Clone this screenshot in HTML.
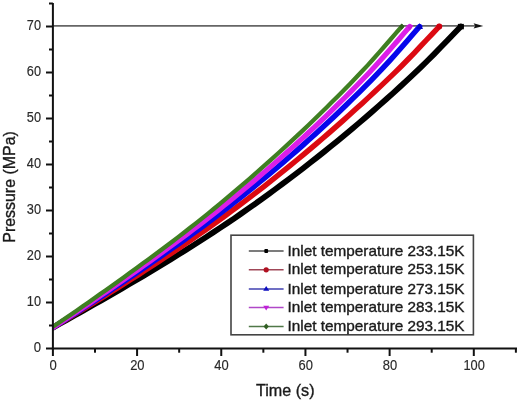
<!DOCTYPE html>
<html><head><meta charset="utf-8"><style>
html,body{margin:0;padding:0;background:#fff;width:520px;height:402px;overflow:hidden}
svg{display:block}
text{font-family:"Liberation Sans",Arial,sans-serif;fill:#1a1a1a;stroke:#1a1a1a;stroke-width:0.35px}
text.t{fill:#2a2a2a;stroke:#2a2a2a;stroke-width:0.15px}
</style></head><body>
<svg width="520" height="402" viewBox="0 0 520 402">
<rect width="520" height="402" fill="#fff"/>

<line x1="52.9" y1="25.9" x2="475" y2="25.9" stroke="#666" stroke-width="1.6"/>
<defs><clipPath id="pc"><rect x="53" y="0" width="470" height="349"/></clipPath></defs><g clip-path="url(#pc)">
<polyline points="52.90,327.74 59.81,323.82 66.73,319.91 73.64,316.02 80.56,312.12 87.47,308.22 94.39,304.30 101.30,300.36 108.22,296.40 115.13,292.41 122.06,288.39 129.01,284.34 135.97,280.25 142.94,276.13 149.93,271.96 156.94,267.76 163.95,263.52 170.96,259.23 177.99,254.90 185.01,250.52 192.04,246.10 199.06,241.63 206.08,237.11 213.09,232.54 220.09,227.92 227.07,223.25 234.04,218.53 240.99,213.75 247.91,208.92 254.82,204.04 261.74,199.09 268.65,194.09 275.57,189.03 282.48,183.91 289.39,178.73 296.31,173.49 303.22,168.18 310.14,162.81 317.05,157.38 323.97,151.88 330.88,146.32 337.80,140.68 344.71,134.98 351.63,129.20 358.54,123.36 365.46,117.44 372.37,111.46 379.28,105.39 386.20,99.25 393.11,93.04 400.03,86.75 406.94,80.38 413.86,73.93 420.72,67.41 427.46,60.80 434.11,54.11 440.72,47.33 447.34,40.47 454.03,33.53 460.86,26.50" fill="none" stroke="#000000" stroke-width="5.8" stroke-linejoin="round" stroke-linecap="round"/>
<rect x="457.86" y="23.90" width="6" height="5.4" fill="#000"/>
<polyline points="52.90,327.54 59.45,323.58 66.00,319.62 72.55,315.66 79.09,311.69 85.64,307.70 92.19,303.70 98.74,299.67 105.29,295.61 111.84,291.53 118.40,287.41 124.99,283.26 131.59,279.08 138.21,274.86 144.84,270.60 151.47,266.30 158.12,261.97 164.78,257.59 171.44,253.17 178.10,248.71 184.76,244.21 191.42,239.66 198.07,235.07 204.71,230.43 211.34,225.75 217.95,221.02 224.54,216.24 231.11,211.41 237.65,206.53 244.20,201.61 250.75,196.63 257.30,191.60 263.85,186.51 270.40,181.37 276.94,176.18 283.49,170.94 290.04,165.63 296.59,160.27 303.14,154.86 309.69,149.38 316.23,143.85 322.78,138.26 329.33,132.60 335.88,126.89 342.43,121.11 348.98,115.27 355.52,109.37 362.07,103.40 368.62,97.37 375.17,91.27 381.72,85.11 388.27,78.87 394.81,72.57 401.29,66.21 407.65,59.77 413.93,53.26 420.18,46.68 426.45,40.02 432.79,33.30 439.25,26.50" fill="none" stroke="#dc0a12" stroke-width="5.4" stroke-linejoin="round" stroke-linecap="round"/>
<circle cx="439.25" cy="26.50" r="3" fill="#d00010"/>
<polyline points="52.90,327.48 59.12,323.64 65.33,319.76 71.55,315.83 77.77,311.86 83.98,307.85 90.20,303.81 96.41,299.74 102.63,295.64 108.85,291.51 115.08,287.36 121.34,283.18 127.61,278.97 133.89,274.73 140.19,270.46 146.50,266.17 152.81,261.84 159.14,257.48 165.46,253.09 171.79,248.66 178.12,244.20 184.44,239.70 190.76,235.16 197.07,230.58 203.36,225.96 209.64,221.30 215.90,216.59 222.14,211.83 228.36,207.03 234.57,202.18 240.79,197.28 247.01,192.33 253.22,187.32 259.44,182.25 265.66,177.14 271.87,171.96 278.09,166.72 284.30,161.42 290.52,156.06 296.74,150.64 302.95,145.14 309.17,139.59 315.39,133.96 321.60,128.27 327.82,122.50 334.04,116.66 340.25,110.75 346.47,104.76 352.68,98.69 358.90,92.55 365.12,86.33 371.33,80.02 377.55,73.64 383.71,67.17 389.75,60.61 395.70,53.97 401.61,47.24 407.54,40.42 413.54,33.51 419.66,26.50" fill="none" stroke="#0606ec" stroke-width="5.4" stroke-linejoin="round" stroke-linecap="round"/>
<polygon points="416.26,28.90 423.06,28.90 419.66,23.30" fill="#0000c8"/>
<polyline points="52.90,327.50 58.95,323.60 65.00,319.66 71.05,315.68 77.10,311.65 83.15,307.59 89.20,303.50 95.25,299.38 101.30,295.23 107.35,291.05 113.42,286.84 119.51,282.61 125.62,278.35 131.74,274.06 137.87,269.75 144.02,265.40 150.17,261.03 156.33,256.62 162.49,252.18 168.65,247.72 174.81,243.21 180.97,238.67 187.12,234.10 193.26,229.48 199.38,224.83 205.49,220.13 211.58,215.40 217.65,210.61 223.69,205.79 229.74,200.92 235.79,196.00 241.84,191.03 247.89,186.01 253.94,180.94 259.99,175.81 266.04,170.63 272.09,165.40 278.14,160.11 284.19,154.75 290.24,149.34 296.29,143.87 302.34,138.34 308.39,132.74 314.44,127.07 320.49,121.34 326.54,115.54 332.59,109.67 338.64,103.73 344.69,97.72 350.74,91.64 356.79,85.48 362.84,79.25 368.89,72.94 374.88,66.55 380.74,60.08 386.52,53.53 392.27,46.90 398.04,40.19 403.87,33.39 409.84,26.50" fill="none" stroke="#dc1ee8" stroke-width="5.2" stroke-linejoin="round" stroke-linecap="round"/>
<polygon points="406.24,24.90 413.44,24.90 409.84,30.50" fill="#c818d8"/>
<polyline points="52.90,326.84 58.81,322.83 64.73,318.79 70.64,314.74 76.55,310.66 82.46,306.56 88.38,302.44 94.29,298.29 100.20,294.11 106.12,289.91 112.06,285.68 118.02,281.42 123.99,277.13 129.98,272.82 135.98,268.47 141.99,264.09 148.01,259.68 154.04,255.23 160.06,250.75 166.09,246.23 172.11,241.68 178.13,237.09 184.14,232.46 190.14,227.79 196.12,223.09 202.09,218.34 208.03,213.55 213.95,208.72 219.86,203.84 225.78,198.93 231.69,193.96 237.60,188.95 243.52,183.90 249.43,178.79 255.34,173.64 261.25,168.44 267.17,163.19 273.08,157.88 278.99,152.53 284.91,147.12 290.82,141.66 296.73,136.14 302.64,130.57 308.56,124.94 314.47,119.25 320.38,113.51 326.30,107.71 332.21,101.84 338.12,95.92 344.04,89.94 349.95,83.89 355.86,77.78 361.77,71.60 367.60,65.36 373.31,59.05 378.96,52.68 384.58,46.24 390.22,39.73 395.93,33.15 401.77,26.50" fill="none" stroke="#3f7f22" stroke-width="4.3" stroke-linejoin="round" stroke-linecap="round"/>
<polygon points="398.97,26.50 401.77,23.60 404.57,26.50 401.77,29.40" fill="#2e5e1a"/>
</g>
<polygon points="473.6,23.2 483.3,25.9 473.6,28.6 475.2,25.9" fill="#111"/>
<line x1="52.9" y1="3" x2="52.9" y2="349.5" stroke="#111" stroke-width="2"/>
<line x1="51.9" y1="348.5" x2="517" y2="348.5" stroke="#111" stroke-width="2"/>
<line x1="46" y1="348.50" x2="52.9" y2="348.50" stroke="#111" stroke-width="2"/>
<text class="t" x="41" y="352.10" font-size="14" text-anchor="end" textLength="7.3" lengthAdjust="spacingAndGlyphs">0</text>
<line x1="46" y1="302.50" x2="52.9" y2="302.50" stroke="#111" stroke-width="2"/>
<text class="t" x="41" y="306.10" font-size="14" text-anchor="end" textLength="14.2" lengthAdjust="spacingAndGlyphs">10</text>
<line x1="46" y1="256.50" x2="52.9" y2="256.50" stroke="#111" stroke-width="2"/>
<text class="t" x="41" y="260.10" font-size="14" text-anchor="end" textLength="14.2" lengthAdjust="spacingAndGlyphs">20</text>
<line x1="46" y1="210.50" x2="52.9" y2="210.50" stroke="#111" stroke-width="2"/>
<text class="t" x="41" y="214.10" font-size="14" text-anchor="end" textLength="14.2" lengthAdjust="spacingAndGlyphs">30</text>
<line x1="46" y1="164.50" x2="52.9" y2="164.50" stroke="#111" stroke-width="2"/>
<text class="t" x="41" y="168.10" font-size="14" text-anchor="end" textLength="14.2" lengthAdjust="spacingAndGlyphs">40</text>
<line x1="46" y1="118.50" x2="52.9" y2="118.50" stroke="#111" stroke-width="2"/>
<text class="t" x="41" y="122.10" font-size="14" text-anchor="end" textLength="14.2" lengthAdjust="spacingAndGlyphs">50</text>
<line x1="46" y1="72.50" x2="52.9" y2="72.50" stroke="#111" stroke-width="2"/>
<text class="t" x="41" y="76.10" font-size="14" text-anchor="end" textLength="14.2" lengthAdjust="spacingAndGlyphs">60</text>
<line x1="46" y1="26.50" x2="52.9" y2="26.50" stroke="#111" stroke-width="2"/>
<text class="t" x="41" y="30.10" font-size="14" text-anchor="end" textLength="14.2" lengthAdjust="spacingAndGlyphs">70</text>
<line x1="49" y1="325.50" x2="52.9" y2="325.50" stroke="#111" stroke-width="2"/>
<line x1="49" y1="279.50" x2="52.9" y2="279.50" stroke="#111" stroke-width="2"/>
<line x1="49" y1="233.50" x2="52.9" y2="233.50" stroke="#111" stroke-width="2"/>
<line x1="49" y1="187.50" x2="52.9" y2="187.50" stroke="#111" stroke-width="2"/>
<line x1="49" y1="141.50" x2="52.9" y2="141.50" stroke="#111" stroke-width="2"/>
<line x1="49" y1="95.50" x2="52.9" y2="95.50" stroke="#111" stroke-width="2"/>
<line x1="49" y1="49.50" x2="52.9" y2="49.50" stroke="#111" stroke-width="2"/>
<line x1="49" y1="3.50" x2="52.9" y2="3.50" stroke="#111" stroke-width="2"/>
<line x1="52.90" y1="348.5" x2="52.90" y2="356" stroke="#111" stroke-width="2"/>
<text class="t" x="53.20" y="370.2" font-size="14" text-anchor="middle" textLength="7.3" lengthAdjust="spacingAndGlyphs">0</text>
<line x1="137.08" y1="348.5" x2="137.08" y2="356" stroke="#111" stroke-width="2"/>
<text class="t" x="137.38" y="370.2" font-size="14" text-anchor="middle" textLength="14.4" lengthAdjust="spacingAndGlyphs">20</text>
<line x1="221.26" y1="348.5" x2="221.26" y2="356" stroke="#111" stroke-width="2"/>
<text class="t" x="221.56" y="370.2" font-size="14" text-anchor="middle" textLength="14.4" lengthAdjust="spacingAndGlyphs">40</text>
<line x1="305.44" y1="348.5" x2="305.44" y2="356" stroke="#111" stroke-width="2"/>
<text class="t" x="305.74" y="370.2" font-size="14" text-anchor="middle" textLength="14.4" lengthAdjust="spacingAndGlyphs">60</text>
<line x1="389.62" y1="348.5" x2="389.62" y2="356" stroke="#111" stroke-width="2"/>
<text class="t" x="389.92" y="370.2" font-size="14" text-anchor="middle" textLength="14.4" lengthAdjust="spacingAndGlyphs">80</text>
<line x1="473.80" y1="348.5" x2="473.80" y2="356" stroke="#111" stroke-width="2"/>
<text class="t" x="474.10" y="370.2" font-size="14" text-anchor="middle" textLength="21.4" lengthAdjust="spacingAndGlyphs">100</text>
<line x1="94.99" y1="348.5" x2="94.99" y2="352.7" stroke="#111" stroke-width="2"/>
<line x1="179.17" y1="348.5" x2="179.17" y2="352.7" stroke="#111" stroke-width="2"/>
<line x1="263.35" y1="348.5" x2="263.35" y2="352.7" stroke="#111" stroke-width="2"/>
<line x1="347.53" y1="348.5" x2="347.53" y2="352.7" stroke="#111" stroke-width="2"/>
<line x1="431.71" y1="348.5" x2="431.71" y2="352.7" stroke="#111" stroke-width="2"/>
<line x1="515.89" y1="348.5" x2="515.89" y2="352.7" stroke="#111" stroke-width="2"/>
<text x="256" y="395.7" font-size="16" textLength="58.5" lengthAdjust="spacingAndGlyphs">Time (s)</text>
<text transform="translate(14.9,242.7) rotate(-90)" font-size="16" textLength="111.5" lengthAdjust="spacingAndGlyphs">Pressure (MPa)</text>
<rect x="231" y="235.2" width="242.4" height="99.6" fill="#fff" stroke="#444" stroke-width="1.6"/>
<line x1="248.8" y1="250.9" x2="283.6" y2="250.9" stroke="#505050" stroke-width="1.5"/>
<rect x="264.3" y="248.9" width="3.8" height="4" rx="1" fill="#000"/>
<text x="287.6" y="255.50" font-size="14.2" textLength="177" lengthAdjust="spacingAndGlyphs">Inlet temperature 233.15K</text>
<line x1="248.8" y1="269.8" x2="283.6" y2="269.8" stroke="#a04858" stroke-width="1.5"/>
<circle cx="266.2" cy="269.8" r="2.6" fill="#b01020"/>
<text x="287.6" y="274.40" font-size="14.2" textLength="177" lengthAdjust="spacingAndGlyphs">Inlet temperature 253.15K</text>
<line x1="248.8" y1="289.0" x2="283.6" y2="289.0" stroke="#4040b0" stroke-width="1.5"/>
<polygon points="263.2,290.8 269.2,290.8 266.2,286.0" fill="#0c0cc0"/>
<text x="287.6" y="293.60" font-size="14.2" textLength="177" lengthAdjust="spacingAndGlyphs">Inlet temperature 273.15K</text>
<line x1="248.8" y1="307.5" x2="283.6" y2="307.5" stroke="#b048c8" stroke-width="1.5"/>
<polygon points="263.2,305.7 269.2,305.7 266.2,310.5" fill="#c020d8"/>
<text x="287.6" y="312.10" font-size="14.2" textLength="177" lengthAdjust="spacingAndGlyphs">Inlet temperature 283.15K</text>
<line x1="248.8" y1="326.4" x2="283.6" y2="326.4" stroke="#507848" stroke-width="1.5"/>
<polygon points="263.59999999999997,326.4 266.2,323.4 268.8,326.4 266.2,329.4" fill="#305e22"/>
<text x="287.6" y="331.00" font-size="14.2" textLength="177" lengthAdjust="spacingAndGlyphs">Inlet temperature 293.15K</text>
</svg>
</body></html>
